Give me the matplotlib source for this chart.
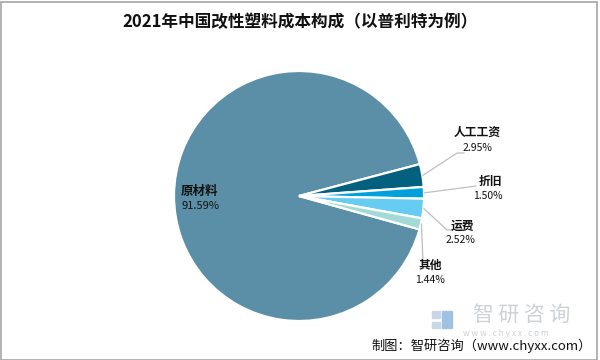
import numpy as np
import matplotlib
matplotlib.use('Agg')
import matplotlib.pyplot as plt
from matplotlib.patches import Rectangle

plt.rcParams['font.family'] = ['Noto Sans CJK SC', 'DejaVu Sans']

categories = ['原材料', '人工工资', '折旧', '运费', '其他']
shares = [91.59, 2.95, 1.50, 2.52, 1.44]
colors = ['#5B8FA7', '#04607F', '#00A0DC', '#66CCF2', '#A4DAD5']

W, H = 600, 360
cx, cy, R = 299, 196, 125   # pie centre / radius in pixels (from top-left)

fig = plt.figure(figsize=(6, 3.6), dpi=100)
ax = fig.add_axes([(cx - R) / W, (H - cy - R) / H, 2 * R / W, 2 * R / H])
ax.axis('off')

start = -15.5
wedges, _ = ax.pie(shares, colors=colors, startangle=start, counterclock=False,
                   radius=1, center=(0, 0), frame=False,
                   wedgeprops=dict(edgecolor='white', linewidth=1.6))
ax.set_xlim(-1, 1)
ax.set_ylim(-1, 1)
ax.set_aspect('equal')

def px2data(px, py):
    return (px - cx) / R, (cy - py) / R

# inside label for the big slice
x, y = px2data(181, 191)
ax.text(x, y, categories[0], fontsize=9, fontweight='bold', ha='left', va='center', color='#111111')
x, y = px2data(181, 206)
ax.text(x, y, f'{shares[0]:.2f}%', fontsize=8, ha='left', va='center', color='#111111')

# outside labels: (name centre px, value centre px, leader line points px)
label_pos = {
    '人工工资': ((477, 132), (477, 148), [(457, 153), (464, 153)]),
    '折旧': ((490, 181), (488, 196), [(476, 186)]),
    '运费': ((462, 226), (460, 240), [(447, 230), (452, 230)]),
    '其他': ((430, 265), (430, 280), [(423, 262)]),
}
for w, cat, val in zip(wedges, categories, shares):
    if cat not in label_pos:
        continue
    mid = np.deg2rad((w.theta1 + w.theta2) / 2)
    ax0, ay0 = np.cos(mid) * 1.005, np.sin(mid) * 1.005
    (tx, ty), (vx, vy), pts = label_pos[cat]
    xs = [ax0] + [px2data(*p)[0] for p in pts]
    ys = [ay0] + [px2data(*p)[1] for p in pts]
    ax.plot(xs, ys, color='#BFBFBF', linewidth=0.9, clip_on=False)
    x, y = px2data(tx, ty)
    ax.text(x, y, cat, fontsize=8.5, fontweight='bold', ha='center', va='center', color='#111111')
    x, y = px2data(vx, vy)
    ax.text(x, y, f'{val:.2f}%', fontsize=7.5, ha='center', va='center', color='#111111')

# title
fig.text(0.5, 1 - 22 / H, '2021年中国改性塑料成本构成（以普利特为例）', fontsize=12,
         fontweight='bold', ha='center', va='center', color='#111111')

# watermark
fig.patches.append(Rectangle((432 / W, 1 - 328 / H), 8 / W, 6 / H, transform=fig.transFigure,
                             color='#C9D6E6', zorder=0))
fig.patches.append(Rectangle((432 / W, 1 - 318 / H), 8 / W, 7 / H, transform=fig.transFigure,
                             color='#C9D6E6', zorder=0))
fig.patches.append(Rectangle((442 / W, 1 - 328 / H), 10 / W, 17 / H, transform=fig.transFigure,
                             color='#9FC2E3', zorder=0))
fig.text(522 / W, 1 - 315 / H, '智 研 咨 询', fontsize=15, color='#CDD1D6',
         ha='center', va='center')
fig.text(506 / W, 1 - 334 / H, 'w w w . c h y x x . c o m', fontsize=6, color='#CDD1D6',
         ha='center', va='center')

# source
fig.text(592 / W, 1 - 346 / H, '制图：智研咨询（www.chyxx.com）', fontsize=9.5,
         ha='right', va='center', color='#111111')

# outer frame
fig.patches.append(Rectangle((0.5 / W, 0.5 / H), (W - 4) / W, (H - 2) / H,
                             transform=fig.transFigure, fill=False,
                             edgecolor='#A6A6A6', linewidth=1.2))

fig.savefig('out.png', dpi=100)
